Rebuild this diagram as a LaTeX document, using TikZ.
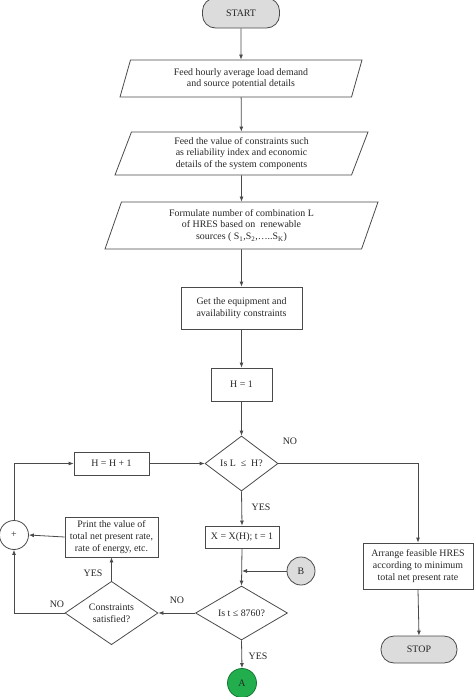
\documentclass[tikz,border=0pt]{standalone}
\usepackage{fontspec}
\setmainfont{Liberation Serif}
\usetikzlibrary{positioning}
\usetikzlibrary{shapes.geometric}
\usetikzlibrary{arrows.meta}
\definecolor{linegray}{HTML}{4A4A4A}
\definecolor{termgray}{HTML}{DCDCDC}
\definecolor{agreen}{HTML}{22AE4D}
\definecolor{adkgreen}{HTML}{127A34}
\tikzset{
  every node/.style={font=\fontsize{9.9}{11.6}\selectfont, text=black!85},
  flow/.style={draw=linegray, line width=0.8pt, -{Latex[length=5pt,width=4pt]}},
  term/.style={draw=linegray, line width=0.8pt, fill=termgray, rounded corners=13pt, inner sep=0pt},
  iobox/.style={draw=linegray, line width=0.8pt, trapezium, trapezium left angle=63, trapezium right angle=117,
    trapezium stretches body, align=center, inner sep=0pt},
  procbox/.style={draw=linegray, line width=0.8pt, rectangle, align=center, inner sep=0pt},
  decide/.style={draw=linegray, line width=0.8pt, diamond, align=center, inner sep=0pt},
  conn/.style={draw=linegray, line width=0.8pt, circle, inner sep=0pt}
}
\begin{document}
\begin{tikzpicture}[x=1pt,y=-1pt]
\useasboundingbox (0,0) rectangle (474,697);
% terminals and boxes down the main column
\node[term, minimum width=77, minimum height=30] (start) at (241,13) {START};
\node[iobox, minimum width=242, minimum height=37] (feed) at (241,78.5)
  {Feed hourly average load demand\\and source potential details};
\node[iobox, minimum width=253, minimum height=43] (cons) at (241.5,153.5)
  {Feed the value of constraints such\\as reliability index and economic\\details of the system components};
\node[iobox, minimum width=273, minimum height=47] (comb) at (241.5,225.5)
  {Formulate number of combination L\\of HRES based on~~renewable\\sources ( S\textsubscript{1},S\textsubscript{2},…..S\textsubscript{K})};
\node[procbox, minimum width=121, minimum height=42] (equip) at (241.5,308)
  {Get the equipment and\\availability constraints};
\node[procbox, minimum width=61, minimum height=33] (hone) at (241.5,384.5) {H = 1};
\node[decide, minimum width=73, minimum height=55] (isl) at (241.5,463.5) {Is L~~≤~~H?};
\node[procbox, minimum width=75, minimum height=23] (hinc) at (111.5,463.5) {H = H + 1};
\node[procbox, minimum width=74, minimum height=22] (xset) at (242,537) {X = X(H); t = 1};
\node[decide, minimum width=92, minimum height=54] (ist) at (241.5,613) {Is t ≤ 8760?};
\node[decide, minimum width=93, minimum height=54] (csat) at (111.5,613) {Constraints\\satisfied?};
\node[procbox, minimum width=93, minimum height=40] (print) at (111.5,537)
  {Print the value of\\total net present rate,\\rate of energy, etc.};
\node[conn, minimum size=29] (plus) at (14,535) {+};
\node[conn, fill=termgray, minimum size=28] (b) at (301,571) {B};
\node[conn, draw=adkgreen, fill=agreen, minimum size=29] (a) at (242,683) {A};
\node[procbox, minimum width=110, minimum height=46] (arrange) at (418,566)
  {Arrange feasible HRES\\according to minimum\\total net present rate};
\node[term, minimum width=76, minimum height=27] (stop) at (419,649.5) {STOP};
\coordinate (bj) at (xset.south |- b);
% connectors
\draw[flow] (start) -- (feed);
\draw[flow] (feed) -- (cons);
\draw[flow] (cons) -- (comb);
\draw[flow] (comb) -- (equip);
\draw[flow] (equip) -- (hone);
\draw[flow] (hone) -- (isl);
\draw[flow] (isl.east) -| (arrange.north);
\node (no1) at (290,441) {NO};
\draw[flow] (isl.south) -- (xset.north);
\node (yes1) at (261,507) {YES};
\draw[flow] (xset.south) -- (ist.north);
\draw[flow] (b.west) -- (bj);
\draw[flow] (ist.west) -- (csat.east);
\node (no2) at (177,600) {NO};
\draw[flow] (ist.south) -- (a.north);
\node (yes2) at (258,656) {YES};
\draw[flow] (csat.north) -- (print.south);
\node (yes3) at (93,573) {YES};
\draw[flow] (csat.west) -| (plus.south);
\node (no3) at (57,604) {NO};
\draw[flow] (print.west) -- (plus.east);
\draw[flow] (plus.north) |- (hinc.west);
\draw[flow] (hinc.east) -- (isl.west);
\draw[flow] (arrange.south) -- (stop.north);
\end{tikzpicture}
\end{document}
